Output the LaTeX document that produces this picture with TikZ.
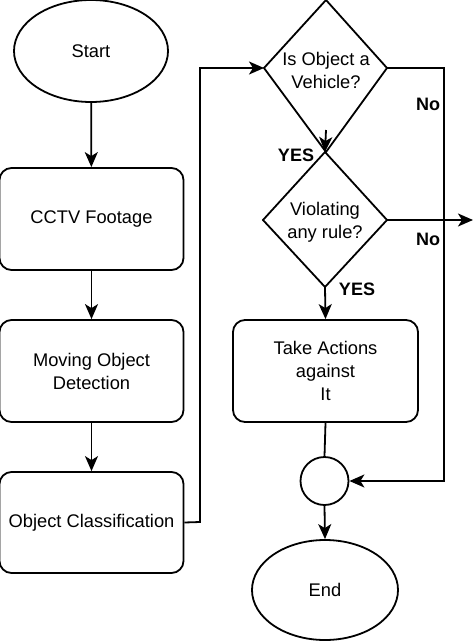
\documentclass[tikz,border=0pt]{standalone}
\usepackage{fontspec}
\setmainfont{Liberation Sans}
\usetikzlibrary{shapes.geometric,arrows.meta}
\begin{document}
\begin{tikzpicture}[x=1pt,y=-1pt,
  line width=1.8pt,
  every node/.style={font=\fontsize{18.3}{23}\selectfont, align=center},
  arr/.style={-{Stealth[length=15pt,width=13pt,inset=4pt]}},
  box/.style={draw, rectangle, rounded corners=12pt, minimum width=184pt, minimum height=102pt, inner sep=0pt},
  oval/.style={draw, ellipse, inner sep=0pt},
  lbl/.style={font=\fontsize{18}{20}\selectfont\bfseries, inner sep=0pt}]
\useasboundingbox (0,0) rectangle (474,642);
% left column
\node[oval, minimum width=154pt, minimum height=102pt] (start) at (91,51) {Start};
\node[box] (cctv) at (91.5,219) {CCTV Footage};
\node[box] (moving) at (91.5,371) {Moving Object\\Detection};
\node[box, minimum height=101pt] (classif) at (91.5,522.5) {Object Classification};
% decision 1 (kite)
\coordinate (d1t) at (326,0);
\coordinate (d1l) at (264,68);
\coordinate (d1r) at (387,68);
\coordinate (d1b) at (326,152);
\draw (d1t) -- (d1r) -- (d1b) -- (d1l) -- cycle;
\node (d1) at (326,70) {Is Object a\\Vehicle?};
% decision 2
\coordinate (d2t) at (325,152);
\coordinate (d2l) at (263,220);
\coordinate (d2r) at (387,220);
\coordinate (d2b) at (325,287);
\draw (d2t) -- (d2r) -- (d2b) -- (d2l) -- cycle;
\node (d2) at (325,222) {Violating\\any rule?};
% action, junction, end
\node[box, minimum width=185pt] (act) at (325.5,371) {Take Actions\\against\\It};
\node[draw, circle, minimum size=48pt, inner sep=0pt] (circ) at (324.5,481) {};
\node[oval, minimum width=146pt, minimum height=100pt] (endn) at (325,590) {End};
% helper coordinates
\coordinate (ycorner) at (200,522);
\coordinate (nocorner) at (444,68);
\coordinate (yesstart) at (326,130);
\coordinate (outend) at (473,220);
% connectors
\draw[arr] (start) -- (cctv);
\draw[arr] (cctv) -- (moving);
\draw[arr] (moving) -- (classif);
\draw[arr] (classif.east) -- (ycorner) |- (d1l);
\draw[arr] (yesstart) -- (d2t);
\draw[arr] (d1r) -- (nocorner) |- (circ.east);
\draw[arr] (d2r) -- (outend);
\draw[arr] (d2b) -- (act.north);
\draw (act.south) -- (circ.north);
\draw[arr] (circ.south) -- (endn.north);
% labels
\node[lbl] (no1) at (428,104) {No};
\node[lbl] (no2) at (428,239) {No};
\node[lbl] (yes1) at (296,155) {YES};
\node[lbl] (yes2) at (357,289) {YES};
\end{tikzpicture}
\end{document}
